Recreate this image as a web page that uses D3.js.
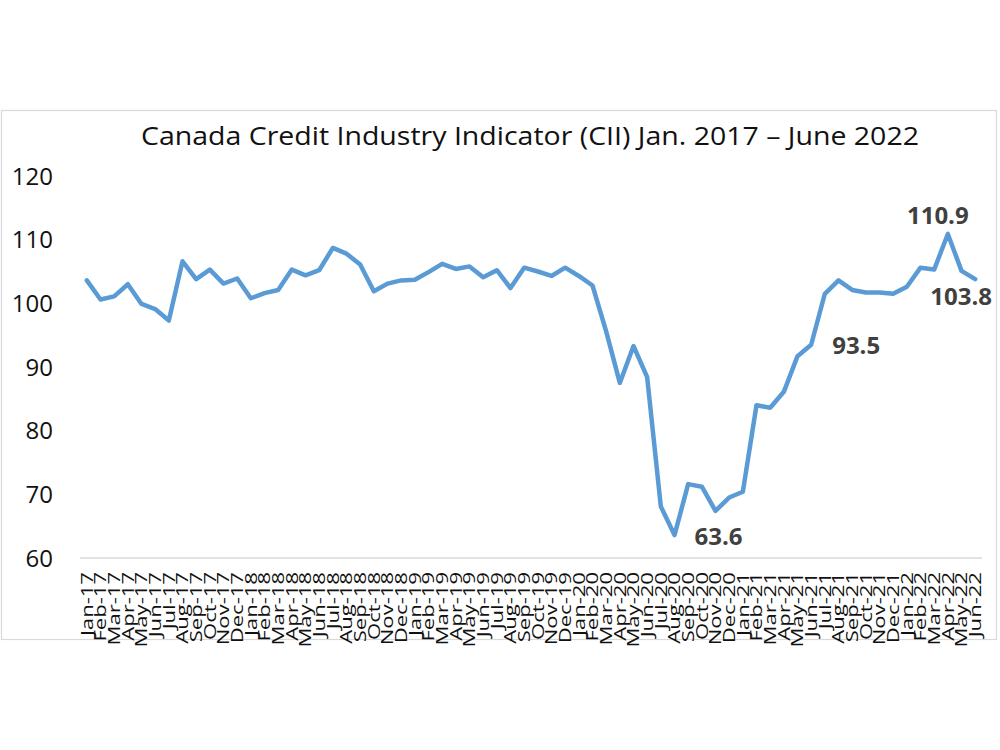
<!DOCTYPE html>
<html lang="en">
<head>
<meta charset="UTF-8">
<title>Canada Credit Industry Indicator</title>
<style>
  body { margin: 0; background: #fff; }
  text { font-family: "Open Sans", "Liberation Sans", sans-serif; }
</style>
</head>
<body>
<script src="https://cdn.jsdelivr.net/npm/d3@7"></script>
<script>
// monthly labels Jan-17 .. Jun-22
var months = ["Jan","Feb","Mar","Apr","May","Jun","Jul","Aug","Sep","Oct","Nov","Dec"];
var years = ["17","18","19","20","21","22"];
var categories = [];
years.forEach(function(y){
  months.forEach(function(m){
    if (!(y === "22" && months.indexOf(m) > 5)) categories.push(m + "-" + y);
  });
});

// CII values
var cii = [
  103.6, 100.6, 101.1, 103.0, 99.9, 99.1, 97.3, 106.6, 103.8, 105.3, 103.1, 103.9,
  100.8, 101.6, 102.1, 105.3, 104.4, 105.2, 108.7, 107.8, 106.1, 101.9, 103.1, 103.6,
  103.7, 104.9, 106.2, 105.4, 105.8, 104.1, 105.2, 102.4, 105.6, 105.0, 104.3, 105.6,
  104.3, 102.8, 95.6, 87.5, 93.3, 88.4, 68.1, 63.6, 71.6, 71.2, 67.4, 69.5,
  70.4, 84.0, 83.6, 86.1, 91.7, 93.5, 101.5, 103.6, 102.1, 101.7, 101.7, 101.5,
  102.6, 105.6, 105.3, 110.9, 105.1, 103.8
];

var yTicks = [60, 70, 80, 90, 100, 110, 120];
var labelled = ["Aug-20", "Jun-21", "Apr-22", "Jun-22"];

var width = 1000, height = 750;
var svg = d3.select("body").append("svg").attr("width", width).attr("height", height);

// chart frame
svg.append("rect").attr("x", 1.5).attr("y", 110.5).attr("width", 995).attr("height", 529)
  .attr("fill", "#fff").attr("stroke", "#d9d9d9").attr("stroke-width", 1.2);

svg.append("text").attr("x", 530).attr("y", 145).attr("text-anchor", "middle")
  .attr("font-size", 26).attr("fill", "#111")
  .attr("textLength", 778).attr("lengthAdjust", "spacingAndGlyphs")
  .text("Canada Credit Industry Indicator (CII) Jan. 2017 \u2013 June 2022");

var x = d3.scaleBand().domain(categories).range([80, 982]);
var y = d3.scaleLinear().domain([60, 120]).range([558, 176]);
var cx = function(c){ return x(c) + x.bandwidth() / 2; };

// y labels (no axis line, no ticks)
svg.append("g").selectAll("text").data(yTicks).enter().append("text")
  .attr("x", 53).attr("y", function(d){ return y(d); }).attr("dy", "0.36em")
  .attr("text-anchor", "end").attr("font-size", 24).attr("fill", "#111")
  .text(function(d){ return d; });

// bottom axis line
svg.append("line").attr("x1", 80).attr("x2", 982).attr("y1", y(60)).attr("y2", y(60))
  .attr("stroke", "#d9d9d9").attr("stroke-width", 1.3);

// x labels, rotated
svg.append("g").selectAll("text").data(categories).enter().append("text")
  .attr("transform", function(d){ return "translate(" + cx(d) + ",572) rotate(-90) scale(1.38,1)"; })
  .attr("dy", "0.36em").attr("text-anchor", "end").attr("font-size", 16).attr("fill", "#111")
  .text(function(d){ return d; });

var line = d3.line()
  .x(function(d, i){ return cx(categories[i]); })
  .y(function(d){ return y(d); });

svg.append("path").datum(cii).attr("d", line)
  .attr("fill", "none").attr("stroke", "#5b9bd5").attr("stroke-width", 4.5)
  .attr("stroke-linejoin", "round").attr("stroke-linecap", "round");

// data labels
var place = {
  "Aug-20": { dx: 20, dy: 10, anchor: "start" },
  "Jun-21": { dx: 21, dy: 9, anchor: "start" },
  "Apr-22": { dx: -10, dy: -10, anchor: "middle" },
  "Jun-22": { dx: -14, dy: 26, anchor: "middle" }
};
svg.append("g").selectAll("text").data(labelled).enter().append("text")
  .attr("x", function(d){ return cx(d) + place[d].dx; })
  .attr("y", function(d){ return y(cii[categories.indexOf(d)]) + place[d].dy; })
  .attr("text-anchor", function(d){ return place[d].anchor; })
  .attr("font-size", 24).attr("font-weight", "bold").attr("fill", "#404040")
  .text(function(d){ return cii[categories.indexOf(d)].toFixed(1); });
</script>
</body>
</html>
